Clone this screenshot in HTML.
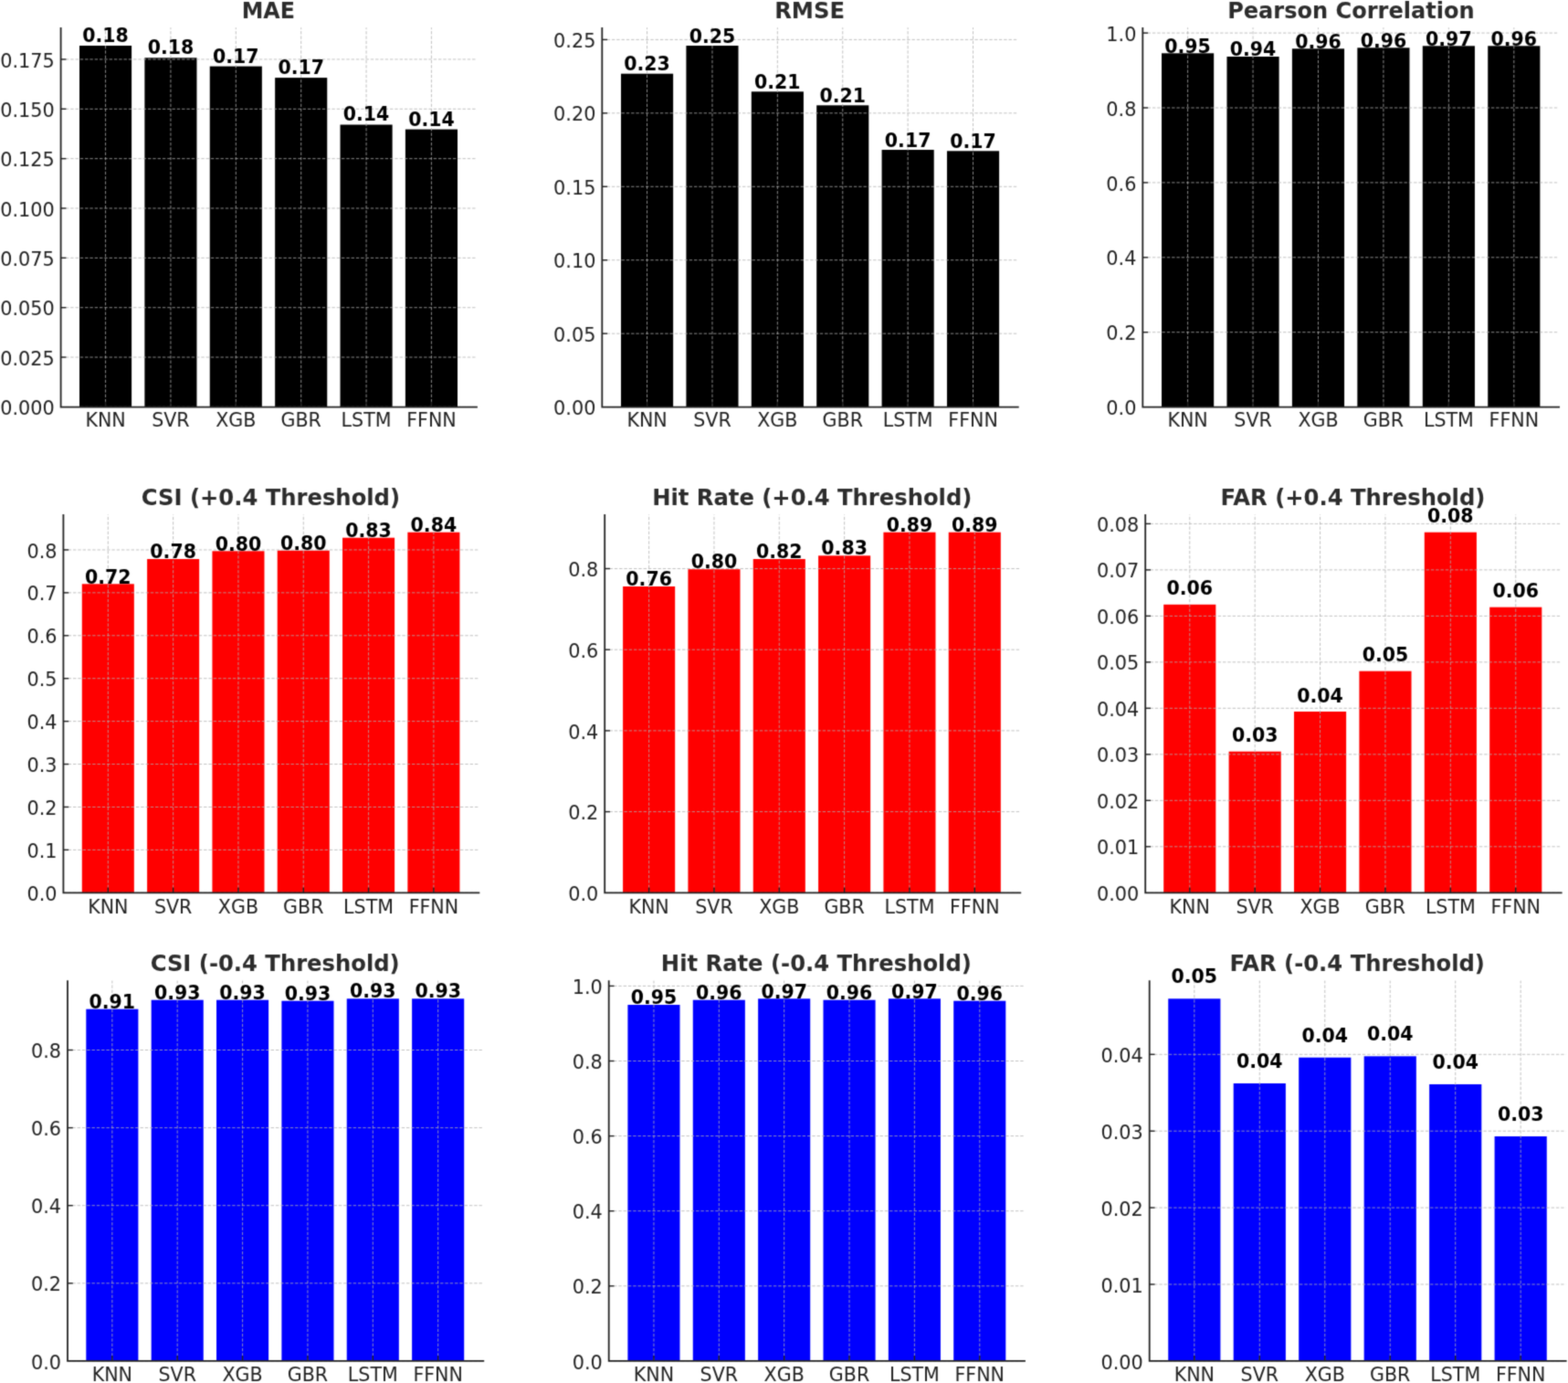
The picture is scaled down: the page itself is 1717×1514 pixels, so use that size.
<!DOCTYPE html>
<html lang="en">
<head>
<meta charset="utf-8">
<title>Model performance metrics</title>
<style>
html,body{margin:0;padding:0;background:#fff;}
body{width:1717px;height:1514px;overflow:hidden;}
svg{display:block;}
text{font-family:"DejaVu Sans","Liberation Sans",sans-serif;}
.tk{font-size:20px;fill:#222222;}
.ti{font-size:24px;font-weight:bold;fill:#2c2c2c;text-anchor:middle;}
.bl{font-size:20px;font-weight:bold;fill:#000;text-anchor:middle;}
.xl{text-anchor:middle;}
.yl{text-anchor:end;}
.g{stroke:#b0b0b0;stroke-opacity:0.78;stroke-width:1;stroke-dasharray:3.4 1.9;fill:none;}
.s{stroke:#222222;stroke-width:1.8;fill:none;}
.tm{stroke-width:1.4;}
</style>
</head>
<body>
<svg width="1717" height="1514" viewBox="0 0 1717 1514">
<defs><filter id="soft" x="0" y="0" width="1717" height="1514" filterUnits="userSpaceOnUse" color-interpolation-filters="sRGB"><feConvolveMatrix order="3" kernelMatrix="1 4 1 4 16 4 1 4 1" edgeMode="duplicate" preserveAlpha="true"/></filter></defs>
<g filter="url(#soft)">
<rect x="0" y="0" width="1717" height="1514" fill="#ffffff"/>
<g>
<rect x="87" y="50" width="57.1" height="395.6" fill="#000000"/>
<rect x="158.38" y="63.3" width="57.1" height="382.3" fill="#000000"/>
<rect x="229.76" y="72.6" width="57.1" height="373" fill="#000000"/>
<rect x="301.14" y="85.1" width="57.1" height="360.5" fill="#000000"/>
<rect x="372.52" y="136.5" width="57.1" height="309.1" fill="#000000"/>
<rect x="443.9" y="141.6" width="57.1" height="304" fill="#000000"/>
<path class="g" d="M115.55 445.6V30.2"/>
<path class="g" d="M186.93 445.6V30.2"/>
<path class="g" d="M258.31 445.6V30.2"/>
<path class="g" d="M329.69 445.6V30.2"/>
<path class="g" d="M401.07 445.6V30.2"/>
<path class="g" d="M472.45 445.6V30.2"/>
<path class="g" d="M66.6 445.4H522"/>
<path class="g" d="M66.6 391.05H522"/>
<path class="g" d="M66.6 336.7H522"/>
<path class="g" d="M66.6 282.35H522"/>
<path class="g" d="M66.6 228H522"/>
<path class="g" d="M66.6 173.65H522"/>
<path class="g" d="M66.6 119.3H522"/>
<path class="g" d="M66.6 64.95H522"/>
<path class="s tm" d="M115.55 445.6V439.8"/>
<path class="s tm" d="M186.93 445.6V439.8"/>
<path class="s tm" d="M258.31 445.6V439.8"/>
<path class="s tm" d="M329.69 445.6V439.8"/>
<path class="s tm" d="M401.07 445.6V439.8"/>
<path class="s tm" d="M472.45 445.6V439.8"/>
<path class="s tm" d="M66.6 391.05H72.4"/>
<path class="s tm" d="M66.6 336.7H72.4"/>
<path class="s tm" d="M66.6 282.35H72.4"/>
<path class="s tm" d="M66.6 228H72.4"/>
<path class="s tm" d="M66.6 173.65H72.4"/>
<path class="s tm" d="M66.6 119.3H72.4"/>
<path class="s tm" d="M66.6 64.95H72.4"/>
<path class="s" d="M66.6 29.9V445.6H522.9"/>
<text class="tk yl" transform="translate(59.7 454) scale(1.04 1.07)">0.000</text>
<text class="tk yl" transform="translate(59.7 399.65) scale(1.04 1.07)">0.025</text>
<text class="tk yl" transform="translate(59.7 345.3) scale(1.04 1.07)">0.050</text>
<text class="tk yl" transform="translate(59.7 290.95) scale(1.04 1.07)">0.075</text>
<text class="tk yl" transform="translate(59.7 236.6) scale(1.04 1.07)">0.100</text>
<text class="tk yl" transform="translate(59.7 182.25) scale(1.04 1.07)">0.125</text>
<text class="tk yl" transform="translate(59.7 127.9) scale(1.04 1.07)">0.150</text>
<text class="tk yl" transform="translate(59.7 73.55) scale(1.04 1.07)">0.175</text>
<text class="tk xl" transform="translate(115.55 467.1) scale(1.03 1.05)">KNN</text>
<text class="tk xl" transform="translate(186.93 467.1) scale(1.03 1.05)">SVR</text>
<text class="tk xl" transform="translate(258.31 467.1) scale(1.03 1.05)">XGB</text>
<text class="tk xl" transform="translate(329.69 467.1) scale(1.03 1.05)">GBR</text>
<text class="tk xl" transform="translate(401.07 467.1) scale(1.03 1.05)">LSTM</text>
<text class="tk xl" transform="translate(472.45 467.1) scale(1.03 1.05)">FFNN</text>
<text class="bl" transform="translate(115.55 45.9) scale(1.025 1.035)">0.18</text>
<text class="bl" transform="translate(186.93 59.2) scale(1.025 1.035)">0.18</text>
<text class="bl" transform="translate(258.31 68.5) scale(1.025 1.035)">0.17</text>
<text class="bl" transform="translate(329.69 81) scale(1.025 1.035)">0.17</text>
<text class="bl" transform="translate(401.07 132.4) scale(1.025 1.035)">0.14</text>
<text class="bl" transform="translate(472.45 137.5) scale(1.025 1.035)">0.14</text>
<text class="ti" transform="translate(293.8 19.7) scale(0.99 1.05)">MAE</text>
</g>
<g>
<rect x="680" y="80.7" width="57.12" height="364.9" fill="#000000"/>
<rect x="751.4" y="50" width="57.12" height="395.6" fill="#000000"/>
<rect x="822.79" y="100.3" width="57.12" height="345.3" fill="#000000"/>
<rect x="894.19" y="115.3" width="57.12" height="330.3" fill="#000000"/>
<rect x="965.58" y="164" width="57.12" height="281.6" fill="#000000"/>
<rect x="1036.98" y="165.3" width="57.12" height="280.3" fill="#000000"/>
<path class="g" d="M708.56 445.6V30.2"/>
<path class="g" d="M779.96 445.6V30.2"/>
<path class="g" d="M851.35 445.6V30.2"/>
<path class="g" d="M922.75 445.6V30.2"/>
<path class="g" d="M994.14 445.6V30.2"/>
<path class="g" d="M1065.54 445.6V30.2"/>
<path class="g" d="M659.3 445.6H1114.8"/>
<path class="g" d="M659.3 365.16H1114.8"/>
<path class="g" d="M659.3 284.72H1114.8"/>
<path class="g" d="M659.3 204.28H1114.8"/>
<path class="g" d="M659.3 123.84H1114.8"/>
<path class="g" d="M659.3 43.4H1114.8"/>
<path class="s tm" d="M708.56 445.6V439.8"/>
<path class="s tm" d="M779.96 445.6V439.8"/>
<path class="s tm" d="M851.35 445.6V439.8"/>
<path class="s tm" d="M922.75 445.6V439.8"/>
<path class="s tm" d="M994.14 445.6V439.8"/>
<path class="s tm" d="M1065.54 445.6V439.8"/>
<path class="s tm" d="M659.3 365.16H665.1"/>
<path class="s tm" d="M659.3 284.72H665.1"/>
<path class="s tm" d="M659.3 204.28H665.1"/>
<path class="s tm" d="M659.3 123.84H665.1"/>
<path class="s tm" d="M659.3 43.4H665.1"/>
<path class="s" d="M659.3 29.9V445.6H1115.7"/>
<text class="tk yl" transform="translate(652.4 454.2) scale(1.04 1.07)">0.00</text>
<text class="tk yl" transform="translate(652.4 373.76) scale(1.04 1.07)">0.05</text>
<text class="tk yl" transform="translate(652.4 293.32) scale(1.04 1.07)">0.10</text>
<text class="tk yl" transform="translate(652.4 212.88) scale(1.04 1.07)">0.15</text>
<text class="tk yl" transform="translate(652.4 132.44) scale(1.04 1.07)">0.20</text>
<text class="tk yl" transform="translate(652.4 52) scale(1.04 1.07)">0.25</text>
<text class="tk xl" transform="translate(708.56 467.1) scale(1.03 1.05)">KNN</text>
<text class="tk xl" transform="translate(779.96 467.1) scale(1.03 1.05)">SVR</text>
<text class="tk xl" transform="translate(851.35 467.1) scale(1.03 1.05)">XGB</text>
<text class="tk xl" transform="translate(922.75 467.1) scale(1.03 1.05)">GBR</text>
<text class="tk xl" transform="translate(994.14 467.1) scale(1.03 1.05)">LSTM</text>
<text class="tk xl" transform="translate(1065.54 467.1) scale(1.03 1.05)">FFNN</text>
<text class="bl" transform="translate(708.56 77.4) scale(1.025 1.035)">0.23</text>
<text class="bl" transform="translate(779.96 46.7) scale(1.025 1.035)">0.25</text>
<text class="bl" transform="translate(851.35 97) scale(1.025 1.035)">0.21</text>
<text class="bl" transform="translate(922.75 112) scale(1.025 1.035)">0.21</text>
<text class="bl" transform="translate(994.14 160.7) scale(1.025 1.035)">0.17</text>
<text class="bl" transform="translate(1065.54 162) scale(1.025 1.035)">0.17</text>
<text class="ti" transform="translate(886.55 19.7) scale(1.011 1.05)">RMSE</text>
</g>
<g>
<rect x="1272.02" y="58.3" width="57.15" height="387.3" fill="#000000"/>
<rect x="1343.46" y="62" width="57.15" height="383.6" fill="#000000"/>
<rect x="1414.9" y="53.3" width="57.15" height="392.3" fill="#000000"/>
<rect x="1486.34" y="52.3" width="57.15" height="393.3" fill="#000000"/>
<rect x="1557.79" y="50.3" width="57.15" height="395.3" fill="#000000"/>
<rect x="1629.23" y="50.3" width="57.15" height="395.3" fill="#000000"/>
<path class="g" d="M1300.59 445.6V30.2"/>
<path class="g" d="M1372.04 445.6V30.2"/>
<path class="g" d="M1443.48 445.6V30.2"/>
<path class="g" d="M1514.92 445.6V30.2"/>
<path class="g" d="M1586.36 445.6V30.2"/>
<path class="g" d="M1657.81 445.6V30.2"/>
<path class="g" d="M1251.3 445.6H1707.1"/>
<path class="g" d="M1251.3 363.7H1707.1"/>
<path class="g" d="M1251.3 281.8H1707.1"/>
<path class="g" d="M1251.3 199.9H1707.1"/>
<path class="g" d="M1251.3 118H1707.1"/>
<path class="g" d="M1251.3 36.1H1707.1"/>
<path class="s tm" d="M1300.59 445.6V439.8"/>
<path class="s tm" d="M1372.04 445.6V439.8"/>
<path class="s tm" d="M1443.48 445.6V439.8"/>
<path class="s tm" d="M1514.92 445.6V439.8"/>
<path class="s tm" d="M1586.36 445.6V439.8"/>
<path class="s tm" d="M1657.81 445.6V439.8"/>
<path class="s tm" d="M1251.3 363.7H1257.1"/>
<path class="s tm" d="M1251.3 281.8H1257.1"/>
<path class="s tm" d="M1251.3 199.9H1257.1"/>
<path class="s tm" d="M1251.3 118H1257.1"/>
<path class="s tm" d="M1251.3 36.1H1257.1"/>
<path class="s" d="M1251.3 29.9V445.6H1708"/>
<text class="tk yl" transform="translate(1244.4 454.2) scale(1.04 1.07)">0.0</text>
<text class="tk yl" transform="translate(1244.4 372.3) scale(1.04 1.07)">0.2</text>
<text class="tk yl" transform="translate(1244.4 290.4) scale(1.04 1.07)">0.4</text>
<text class="tk yl" transform="translate(1244.4 208.5) scale(1.04 1.07)">0.6</text>
<text class="tk yl" transform="translate(1244.4 126.6) scale(1.04 1.07)">0.8</text>
<text class="tk yl" transform="translate(1244.4 44.7) scale(1.04 1.07)">1.0</text>
<text class="tk xl" transform="translate(1300.59 467.1) scale(1.03 1.05)">KNN</text>
<text class="tk xl" transform="translate(1372.04 467.1) scale(1.03 1.05)">SVR</text>
<text class="tk xl" transform="translate(1443.48 467.1) scale(1.03 1.05)">XGB</text>
<text class="tk xl" transform="translate(1514.92 467.1) scale(1.03 1.05)">GBR</text>
<text class="tk xl" transform="translate(1586.36 467.1) scale(1.03 1.05)">LSTM</text>
<text class="tk xl" transform="translate(1657.81 467.1) scale(1.03 1.05)">FFNN</text>
<text class="bl" transform="translate(1300.59 57.5) scale(1.025 1.035)">0.95</text>
<text class="bl" transform="translate(1372.04 61.2) scale(1.025 1.035)">0.94</text>
<text class="bl" transform="translate(1443.48 52.5) scale(1.025 1.035)">0.96</text>
<text class="bl" transform="translate(1514.92 51.5) scale(1.025 1.035)">0.96</text>
<text class="bl" transform="translate(1586.36 49.5) scale(1.025 1.035)">0.97</text>
<text class="bl" transform="translate(1657.81 49.5) scale(1.025 1.035)">0.96</text>
<text class="ti" transform="translate(1479.4 19.7) scale(1.003 1.05)">Pearson Correlation</text>
</g>
<g>
<rect x="89.78" y="639.3" width="57.05" height="338" fill="#ff0000"/>
<rect x="161.1" y="612" width="57.05" height="365.3" fill="#ff0000"/>
<rect x="232.42" y="603.3" width="57.05" height="374" fill="#ff0000"/>
<rect x="303.73" y="602.7" width="57.05" height="374.6" fill="#ff0000"/>
<rect x="375.05" y="588.7" width="57.05" height="388.6" fill="#ff0000"/>
<rect x="446.36" y="582.7" width="57.05" height="394.6" fill="#ff0000"/>
<path class="g" d="M118.31 977.3V563.3"/>
<path class="g" d="M189.63 977.3V563.3"/>
<path class="g" d="M260.94 977.3V563.3"/>
<path class="g" d="M332.26 977.3V563.3"/>
<path class="g" d="M403.57 977.3V563.3"/>
<path class="g" d="M474.89 977.3V563.3"/>
<path class="g" d="M69.4 977.3H524.4"/>
<path class="g" d="M69.4 930.38H524.4"/>
<path class="g" d="M69.4 883.46H524.4"/>
<path class="g" d="M69.4 836.54H524.4"/>
<path class="g" d="M69.4 789.62H524.4"/>
<path class="g" d="M69.4 742.7H524.4"/>
<path class="g" d="M69.4 695.78H524.4"/>
<path class="g" d="M69.4 648.86H524.4"/>
<path class="g" d="M69.4 601.94H524.4"/>
<path class="s tm" d="M118.31 977.3V971.5"/>
<path class="s tm" d="M189.63 977.3V971.5"/>
<path class="s tm" d="M260.94 977.3V971.5"/>
<path class="s tm" d="M332.26 977.3V971.5"/>
<path class="s tm" d="M403.57 977.3V971.5"/>
<path class="s tm" d="M474.89 977.3V971.5"/>
<path class="s tm" d="M69.4 930.38H75.2"/>
<path class="s tm" d="M69.4 883.46H75.2"/>
<path class="s tm" d="M69.4 836.54H75.2"/>
<path class="s tm" d="M69.4 789.62H75.2"/>
<path class="s tm" d="M69.4 742.7H75.2"/>
<path class="s tm" d="M69.4 695.78H75.2"/>
<path class="s tm" d="M69.4 648.86H75.2"/>
<path class="s tm" d="M69.4 601.94H75.2"/>
<path class="s" d="M69.4 563V977.3H525.3"/>
<text class="tk yl" transform="translate(62.5 985.9) scale(1.04 1.07)">0.0</text>
<text class="tk yl" transform="translate(62.5 938.98) scale(1.04 1.07)">0.1</text>
<text class="tk yl" transform="translate(62.5 892.06) scale(1.04 1.07)">0.2</text>
<text class="tk yl" transform="translate(62.5 845.14) scale(1.04 1.07)">0.3</text>
<text class="tk yl" transform="translate(62.5 798.22) scale(1.04 1.07)">0.4</text>
<text class="tk yl" transform="translate(62.5 751.3) scale(1.04 1.07)">0.5</text>
<text class="tk yl" transform="translate(62.5 704.38) scale(1.04 1.07)">0.6</text>
<text class="tk yl" transform="translate(62.5 657.46) scale(1.04 1.07)">0.7</text>
<text class="tk yl" transform="translate(62.5 610.54) scale(1.04 1.07)">0.8</text>
<text class="tk xl" transform="translate(118.31 999.5) scale(1.03 1.05)">KNN</text>
<text class="tk xl" transform="translate(189.63 999.5) scale(1.03 1.05)">SVR</text>
<text class="tk xl" transform="translate(260.94 999.5) scale(1.03 1.05)">XGB</text>
<text class="tk xl" transform="translate(332.26 999.5) scale(1.03 1.05)">GBR</text>
<text class="tk xl" transform="translate(403.57 999.5) scale(1.03 1.05)">LSTM</text>
<text class="tk xl" transform="translate(474.89 999.5) scale(1.03 1.05)">FFNN</text>
<text class="bl" transform="translate(118.31 638.7) scale(1.025 1.035)">0.72</text>
<text class="bl" transform="translate(189.63 611.4) scale(1.025 1.035)">0.78</text>
<text class="bl" transform="translate(260.94 602.7) scale(1.025 1.035)">0.80</text>
<text class="bl" transform="translate(332.26 602.1) scale(1.025 1.035)">0.80</text>
<text class="bl" transform="translate(403.57 588.1) scale(1.025 1.035)">0.83</text>
<text class="bl" transform="translate(474.89 582.1) scale(1.025 1.035)">0.84</text>
<text class="ti" transform="translate(296.4 552.8) scale(1.011 1.05)">CSI (+0.4 Threshold)</text>
</g>
<g>
<rect x="682.09" y="642" width="57.07" height="335.3" fill="#ff0000"/>
<rect x="753.42" y="623.2" width="57.07" height="354.1" fill="#ff0000"/>
<rect x="824.75" y="612" width="57.07" height="365.3" fill="#ff0000"/>
<rect x="896.08" y="608.3" width="57.07" height="369" fill="#ff0000"/>
<rect x="967.42" y="582.7" width="57.07" height="394.6" fill="#ff0000"/>
<rect x="1038.75" y="582.7" width="57.07" height="394.6" fill="#ff0000"/>
<path class="g" d="M710.62 977.3V563.3"/>
<path class="g" d="M781.95 977.3V563.3"/>
<path class="g" d="M853.28 977.3V563.3"/>
<path class="g" d="M924.62 977.3V563.3"/>
<path class="g" d="M995.95 977.3V563.3"/>
<path class="g" d="M1067.28 977.3V563.3"/>
<path class="g" d="M662.2 977.3H1117.3"/>
<path class="g" d="M662.2 888.6H1117.3"/>
<path class="g" d="M662.2 799.9H1117.3"/>
<path class="g" d="M662.2 711.2H1117.3"/>
<path class="g" d="M662.2 622.5H1117.3"/>
<path class="s tm" d="M710.62 977.3V971.5"/>
<path class="s tm" d="M781.95 977.3V971.5"/>
<path class="s tm" d="M853.28 977.3V971.5"/>
<path class="s tm" d="M924.62 977.3V971.5"/>
<path class="s tm" d="M995.95 977.3V971.5"/>
<path class="s tm" d="M1067.28 977.3V971.5"/>
<path class="s tm" d="M662.2 888.6H668"/>
<path class="s tm" d="M662.2 799.9H668"/>
<path class="s tm" d="M662.2 711.2H668"/>
<path class="s tm" d="M662.2 622.5H668"/>
<path class="s" d="M662.2 563V977.3H1118.2"/>
<text class="tk yl" transform="translate(655.3 985.9) scale(1.04 1.07)">0.0</text>
<text class="tk yl" transform="translate(655.3 897.2) scale(1.04 1.07)">0.2</text>
<text class="tk yl" transform="translate(655.3 808.5) scale(1.04 1.07)">0.4</text>
<text class="tk yl" transform="translate(655.3 719.8) scale(1.04 1.07)">0.6</text>
<text class="tk yl" transform="translate(655.3 631.1) scale(1.04 1.07)">0.8</text>
<text class="tk xl" transform="translate(710.62 999.5) scale(1.03 1.05)">KNN</text>
<text class="tk xl" transform="translate(781.95 999.5) scale(1.03 1.05)">SVR</text>
<text class="tk xl" transform="translate(853.28 999.5) scale(1.03 1.05)">XGB</text>
<text class="tk xl" transform="translate(924.62 999.5) scale(1.03 1.05)">GBR</text>
<text class="tk xl" transform="translate(995.95 999.5) scale(1.03 1.05)">LSTM</text>
<text class="tk xl" transform="translate(1067.28 999.5) scale(1.03 1.05)">FFNN</text>
<text class="bl" transform="translate(710.62 641.1) scale(1.025 1.035)">0.76</text>
<text class="bl" transform="translate(781.95 622.3) scale(1.025 1.035)">0.80</text>
<text class="bl" transform="translate(853.28 611.1) scale(1.025 1.035)">0.82</text>
<text class="bl" transform="translate(924.62 607.4) scale(1.025 1.035)">0.83</text>
<text class="bl" transform="translate(995.95 581.8) scale(1.025 1.035)">0.89</text>
<text class="bl" transform="translate(1067.28 581.8) scale(1.025 1.035)">0.89</text>
<text class="ti" transform="translate(889.25 552.8) scale(1.011 1.05)">Hit Rate (+0.4 Threshold)</text>
</g>
<g>
<rect x="1274.2" y="661.8" width="57.12" height="315.5" fill="#ff0000"/>
<rect x="1345.6" y="822.7" width="57.12" height="154.6" fill="#ff0000"/>
<rect x="1416.99" y="779" width="57.12" height="198.3" fill="#ff0000"/>
<rect x="1488.39" y="734.7" width="57.12" height="242.6" fill="#ff0000"/>
<rect x="1559.78" y="582.7" width="57.12" height="394.6" fill="#ff0000"/>
<rect x="1631.18" y="664.7" width="57.12" height="312.6" fill="#ff0000"/>
<path class="g" d="M1302.76 977.3V563.3"/>
<path class="g" d="M1374.16 977.3V563.3"/>
<path class="g" d="M1445.55 977.3V563.3"/>
<path class="g" d="M1516.95 977.3V563.3"/>
<path class="g" d="M1588.34 977.3V563.3"/>
<path class="g" d="M1659.74 977.3V563.3"/>
<path class="g" d="M1254.2 977.3H1709.7"/>
<path class="g" d="M1254.2 926.81H1709.7"/>
<path class="g" d="M1254.2 876.32H1709.7"/>
<path class="g" d="M1254.2 825.83H1709.7"/>
<path class="g" d="M1254.2 775.34H1709.7"/>
<path class="g" d="M1254.2 724.85H1709.7"/>
<path class="g" d="M1254.2 674.36H1709.7"/>
<path class="g" d="M1254.2 623.87H1709.7"/>
<path class="g" d="M1254.2 573.38H1709.7"/>
<path class="s tm" d="M1302.76 977.3V971.5"/>
<path class="s tm" d="M1374.16 977.3V971.5"/>
<path class="s tm" d="M1445.55 977.3V971.5"/>
<path class="s tm" d="M1516.95 977.3V971.5"/>
<path class="s tm" d="M1588.34 977.3V971.5"/>
<path class="s tm" d="M1659.74 977.3V971.5"/>
<path class="s tm" d="M1254.2 926.81H1260"/>
<path class="s tm" d="M1254.2 876.32H1260"/>
<path class="s tm" d="M1254.2 825.83H1260"/>
<path class="s tm" d="M1254.2 775.34H1260"/>
<path class="s tm" d="M1254.2 724.85H1260"/>
<path class="s tm" d="M1254.2 674.36H1260"/>
<path class="s tm" d="M1254.2 623.87H1260"/>
<path class="s tm" d="M1254.2 573.38H1260"/>
<path class="s" d="M1254.2 563V977.3H1710.6"/>
<text class="tk yl" transform="translate(1247.3 985.9) scale(1.04 1.07)">0.00</text>
<text class="tk yl" transform="translate(1247.3 935.41) scale(1.04 1.07)">0.01</text>
<text class="tk yl" transform="translate(1247.3 884.92) scale(1.04 1.07)">0.02</text>
<text class="tk yl" transform="translate(1247.3 834.43) scale(1.04 1.07)">0.03</text>
<text class="tk yl" transform="translate(1247.3 783.94) scale(1.04 1.07)">0.04</text>
<text class="tk yl" transform="translate(1247.3 733.45) scale(1.04 1.07)">0.05</text>
<text class="tk yl" transform="translate(1247.3 682.96) scale(1.04 1.07)">0.06</text>
<text class="tk yl" transform="translate(1247.3 632.47) scale(1.04 1.07)">0.07</text>
<text class="tk yl" transform="translate(1247.3 581.98) scale(1.04 1.07)">0.08</text>
<text class="tk xl" transform="translate(1302.76 999.5) scale(1.03 1.05)">KNN</text>
<text class="tk xl" transform="translate(1374.16 999.5) scale(1.03 1.05)">SVR</text>
<text class="tk xl" transform="translate(1445.55 999.5) scale(1.03 1.05)">XGB</text>
<text class="tk xl" transform="translate(1516.95 999.5) scale(1.03 1.05)">GBR</text>
<text class="tk xl" transform="translate(1588.34 999.5) scale(1.03 1.05)">LSTM</text>
<text class="tk xl" transform="translate(1659.74 999.5) scale(1.03 1.05)">FFNN</text>
<text class="bl" transform="translate(1302.76 651.3) scale(1.025 1.035)">0.06</text>
<text class="bl" transform="translate(1374.16 812.2) scale(1.025 1.035)">0.03</text>
<text class="bl" transform="translate(1445.55 768.5) scale(1.025 1.035)">0.04</text>
<text class="bl" transform="translate(1516.95 724.2) scale(1.025 1.035)">0.05</text>
<text class="bl" transform="translate(1588.34 572.2) scale(1.025 1.035)">0.08</text>
<text class="bl" transform="translate(1659.74 654.2) scale(1.025 1.035)">0.06</text>
<text class="ti" transform="translate(1481.45 552.8) scale(1.011 1.05)">FAR (+0.4 Threshold)</text>
</g>
<g>
<rect x="94.3" y="1104.7" width="57.09" height="385.2" fill="#0000ff"/>
<rect x="165.66" y="1094.7" width="57.09" height="395.2" fill="#0000ff"/>
<rect x="237.02" y="1094.7" width="57.09" height="395.2" fill="#0000ff"/>
<rect x="308.39" y="1095.7" width="57.09" height="394.2" fill="#0000ff"/>
<rect x="379.75" y="1093.3" width="57.09" height="396.6" fill="#0000ff"/>
<rect x="451.11" y="1093.3" width="57.09" height="396.6" fill="#0000ff"/>
<path class="g" d="M122.84 1489.9V1073.6"/>
<path class="g" d="M194.2 1489.9V1073.6"/>
<path class="g" d="M265.57 1489.9V1073.6"/>
<path class="g" d="M336.93 1489.9V1073.6"/>
<path class="g" d="M408.3 1489.9V1073.6"/>
<path class="g" d="M479.66 1489.9V1073.6"/>
<path class="g" d="M74 1489.9H529.3"/>
<path class="g" d="M74 1404.8H529.3"/>
<path class="g" d="M74 1319.7H529.3"/>
<path class="g" d="M74 1234.6H529.3"/>
<path class="g" d="M74 1149.5H529.3"/>
<path class="s tm" d="M122.84 1489.9V1484.1"/>
<path class="s tm" d="M194.2 1489.9V1484.1"/>
<path class="s tm" d="M265.57 1489.9V1484.1"/>
<path class="s tm" d="M336.93 1489.9V1484.1"/>
<path class="s tm" d="M408.3 1489.9V1484.1"/>
<path class="s tm" d="M479.66 1489.9V1484.1"/>
<path class="s tm" d="M74 1404.8H79.8"/>
<path class="s tm" d="M74 1319.7H79.8"/>
<path class="s tm" d="M74 1234.6H79.8"/>
<path class="s tm" d="M74 1149.5H79.8"/>
<path class="s" d="M74 1073.3V1489.9H530.2"/>
<text class="tk yl" transform="translate(67.1 1498.5) scale(1.04 1.07)">0.0</text>
<text class="tk yl" transform="translate(67.1 1413.4) scale(1.04 1.07)">0.2</text>
<text class="tk yl" transform="translate(67.1 1328.3) scale(1.04 1.07)">0.4</text>
<text class="tk yl" transform="translate(67.1 1243.2) scale(1.04 1.07)">0.6</text>
<text class="tk yl" transform="translate(67.1 1158.1) scale(1.04 1.07)">0.8</text>
<text class="tk xl" transform="translate(122.84 1512.1) scale(1.03 1.05)">KNN</text>
<text class="tk xl" transform="translate(194.2 1512.1) scale(1.03 1.05)">SVR</text>
<text class="tk xl" transform="translate(265.57 1512.1) scale(1.03 1.05)">XGB</text>
<text class="tk xl" transform="translate(336.93 1512.1) scale(1.03 1.05)">GBR</text>
<text class="tk xl" transform="translate(408.3 1512.1) scale(1.03 1.05)">LSTM</text>
<text class="tk xl" transform="translate(479.66 1512.1) scale(1.03 1.05)">FFNN</text>
<text class="bl" transform="translate(122.84 1103.85) scale(1.025 1.035)">0.91</text>
<text class="bl" transform="translate(194.2 1093.85) scale(1.025 1.035)">0.93</text>
<text class="bl" transform="translate(265.57 1093.85) scale(1.025 1.035)">0.93</text>
<text class="bl" transform="translate(336.93 1094.85) scale(1.025 1.035)">0.93</text>
<text class="bl" transform="translate(408.3 1092.45) scale(1.025 1.035)">0.93</text>
<text class="bl" transform="translate(479.66 1092.45) scale(1.025 1.035)">0.93</text>
<text class="ti" transform="translate(301.15 1063.1) scale(1.011 1.05)">CSI (-0.4 Threshold)</text>
</g>
<g>
<rect x="687.4" y="1100" width="57.09" height="389.9" fill="#0000ff"/>
<rect x="758.76" y="1094.7" width="57.09" height="395.2" fill="#0000ff"/>
<rect x="830.12" y="1093.3" width="57.09" height="396.6" fill="#0000ff"/>
<rect x="901.49" y="1094.7" width="57.09" height="395.2" fill="#0000ff"/>
<rect x="972.85" y="1093.3" width="57.09" height="396.6" fill="#0000ff"/>
<rect x="1044.21" y="1095.7" width="57.09" height="394.2" fill="#0000ff"/>
<path class="g" d="M715.94 1489.9V1073.6"/>
<path class="g" d="M787.3 1489.9V1073.6"/>
<path class="g" d="M858.67 1489.9V1073.6"/>
<path class="g" d="M930.03 1489.9V1073.6"/>
<path class="g" d="M1001.4 1489.9V1073.6"/>
<path class="g" d="M1072.76 1489.9V1073.6"/>
<path class="g" d="M666.7 1489.9H1122"/>
<path class="g" d="M666.7 1407.8H1122"/>
<path class="g" d="M666.7 1325.7H1122"/>
<path class="g" d="M666.7 1243.6H1122"/>
<path class="g" d="M666.7 1161.5H1122"/>
<path class="g" d="M666.7 1079.4H1122"/>
<path class="s tm" d="M715.94 1489.9V1484.1"/>
<path class="s tm" d="M787.3 1489.9V1484.1"/>
<path class="s tm" d="M858.67 1489.9V1484.1"/>
<path class="s tm" d="M930.03 1489.9V1484.1"/>
<path class="s tm" d="M1001.4 1489.9V1484.1"/>
<path class="s tm" d="M1072.76 1489.9V1484.1"/>
<path class="s tm" d="M666.7 1407.8H672.5"/>
<path class="s tm" d="M666.7 1325.7H672.5"/>
<path class="s tm" d="M666.7 1243.6H672.5"/>
<path class="s tm" d="M666.7 1161.5H672.5"/>
<path class="s tm" d="M666.7 1079.4H672.5"/>
<path class="s" d="M666.7 1073.3V1489.9H1122.9"/>
<text class="tk yl" transform="translate(659.8 1498.5) scale(1.04 1.07)">0.0</text>
<text class="tk yl" transform="translate(659.8 1416.4) scale(1.04 1.07)">0.2</text>
<text class="tk yl" transform="translate(659.8 1334.3) scale(1.04 1.07)">0.4</text>
<text class="tk yl" transform="translate(659.8 1252.2) scale(1.04 1.07)">0.6</text>
<text class="tk yl" transform="translate(659.8 1170.1) scale(1.04 1.07)">0.8</text>
<text class="tk yl" transform="translate(659.8 1088) scale(1.04 1.07)">1.0</text>
<text class="tk xl" transform="translate(715.94 1512.1) scale(1.03 1.05)">KNN</text>
<text class="tk xl" transform="translate(787.3 1512.1) scale(1.03 1.05)">SVR</text>
<text class="tk xl" transform="translate(858.67 1512.1) scale(1.03 1.05)">XGB</text>
<text class="tk xl" transform="translate(930.03 1512.1) scale(1.03 1.05)">GBR</text>
<text class="tk xl" transform="translate(1001.4 1512.1) scale(1.03 1.05)">LSTM</text>
<text class="tk xl" transform="translate(1072.76 1512.1) scale(1.03 1.05)">FFNN</text>
<text class="bl" transform="translate(715.94 1099.2) scale(1.025 1.035)">0.95</text>
<text class="bl" transform="translate(787.3 1093.9) scale(1.025 1.035)">0.96</text>
<text class="bl" transform="translate(858.67 1092.5) scale(1.025 1.035)">0.97</text>
<text class="bl" transform="translate(930.03 1093.9) scale(1.025 1.035)">0.96</text>
<text class="bl" transform="translate(1001.4 1092.5) scale(1.025 1.035)">0.97</text>
<text class="bl" transform="translate(1072.76 1094.9) scale(1.025 1.035)">0.96</text>
<text class="ti" transform="translate(893.85 1063.1) scale(1.011 1.05)">Hit Rate (-0.4 Threshold)</text>
</g>
<g>
<rect x="1279.23" y="1093.3" width="57.18" height="396.6" fill="#0000ff"/>
<rect x="1350.7" y="1186" width="57.18" height="303.9" fill="#0000ff"/>
<rect x="1422.17" y="1157.7" width="57.18" height="332.2" fill="#0000ff"/>
<rect x="1493.65" y="1156.3" width="57.18" height="333.6" fill="#0000ff"/>
<rect x="1565.12" y="1187" width="57.18" height="302.9" fill="#0000ff"/>
<rect x="1636.59" y="1244" width="57.18" height="245.9" fill="#0000ff"/>
<path class="g" d="M1307.82 1489.9V1073.6"/>
<path class="g" d="M1379.29 1489.9V1073.6"/>
<path class="g" d="M1450.76 1489.9V1073.6"/>
<path class="g" d="M1522.24 1489.9V1073.6"/>
<path class="g" d="M1593.71 1489.9V1073.6"/>
<path class="g" d="M1665.18 1489.9V1073.6"/>
<path class="g" d="M1258.7 1489.9H1714.7"/>
<path class="g" d="M1258.7 1406H1714.7"/>
<path class="g" d="M1258.7 1322.1H1714.7"/>
<path class="g" d="M1258.7 1238.2H1714.7"/>
<path class="g" d="M1258.7 1154.3H1714.7"/>
<path class="s tm" d="M1307.82 1489.9V1484.1"/>
<path class="s tm" d="M1379.29 1489.9V1484.1"/>
<path class="s tm" d="M1450.76 1489.9V1484.1"/>
<path class="s tm" d="M1522.24 1489.9V1484.1"/>
<path class="s tm" d="M1593.71 1489.9V1484.1"/>
<path class="s tm" d="M1665.18 1489.9V1484.1"/>
<path class="s tm" d="M1258.7 1406H1264.5"/>
<path class="s tm" d="M1258.7 1322.1H1264.5"/>
<path class="s tm" d="M1258.7 1238.2H1264.5"/>
<path class="s tm" d="M1258.7 1154.3H1264.5"/>
<path class="s" d="M1258.7 1073.3V1489.9H1715.6"/>
<text class="tk yl" transform="translate(1251.8 1498.5) scale(1.04 1.07)">0.00</text>
<text class="tk yl" transform="translate(1251.8 1414.6) scale(1.04 1.07)">0.01</text>
<text class="tk yl" transform="translate(1251.8 1330.7) scale(1.04 1.07)">0.02</text>
<text class="tk yl" transform="translate(1251.8 1246.8) scale(1.04 1.07)">0.03</text>
<text class="tk yl" transform="translate(1251.8 1162.9) scale(1.04 1.07)">0.04</text>
<text class="tk xl" transform="translate(1307.82 1512.1) scale(1.03 1.05)">KNN</text>
<text class="tk xl" transform="translate(1379.29 1512.1) scale(1.03 1.05)">SVR</text>
<text class="tk xl" transform="translate(1450.76 1512.1) scale(1.03 1.05)">XGB</text>
<text class="tk xl" transform="translate(1522.24 1512.1) scale(1.03 1.05)">GBR</text>
<text class="tk xl" transform="translate(1593.71 1512.1) scale(1.03 1.05)">LSTM</text>
<text class="tk xl" transform="translate(1665.18 1512.1) scale(1.03 1.05)">FFNN</text>
<text class="bl" transform="translate(1307.82 1076.4) scale(1.025 1.035)">0.05</text>
<text class="bl" transform="translate(1379.29 1169.1) scale(1.025 1.035)">0.04</text>
<text class="bl" transform="translate(1450.76 1140.8) scale(1.025 1.035)">0.04</text>
<text class="bl" transform="translate(1522.24 1139.4) scale(1.025 1.035)">0.04</text>
<text class="bl" transform="translate(1593.71 1170.1) scale(1.025 1.035)">0.04</text>
<text class="bl" transform="translate(1665.18 1227.1) scale(1.025 1.035)">0.03</text>
<text class="ti" transform="translate(1486.2 1063.1) scale(1.011 1.05)">FAR (-0.4 Threshold)</text>
</g>
</g>
</svg>
</body>
</html>
